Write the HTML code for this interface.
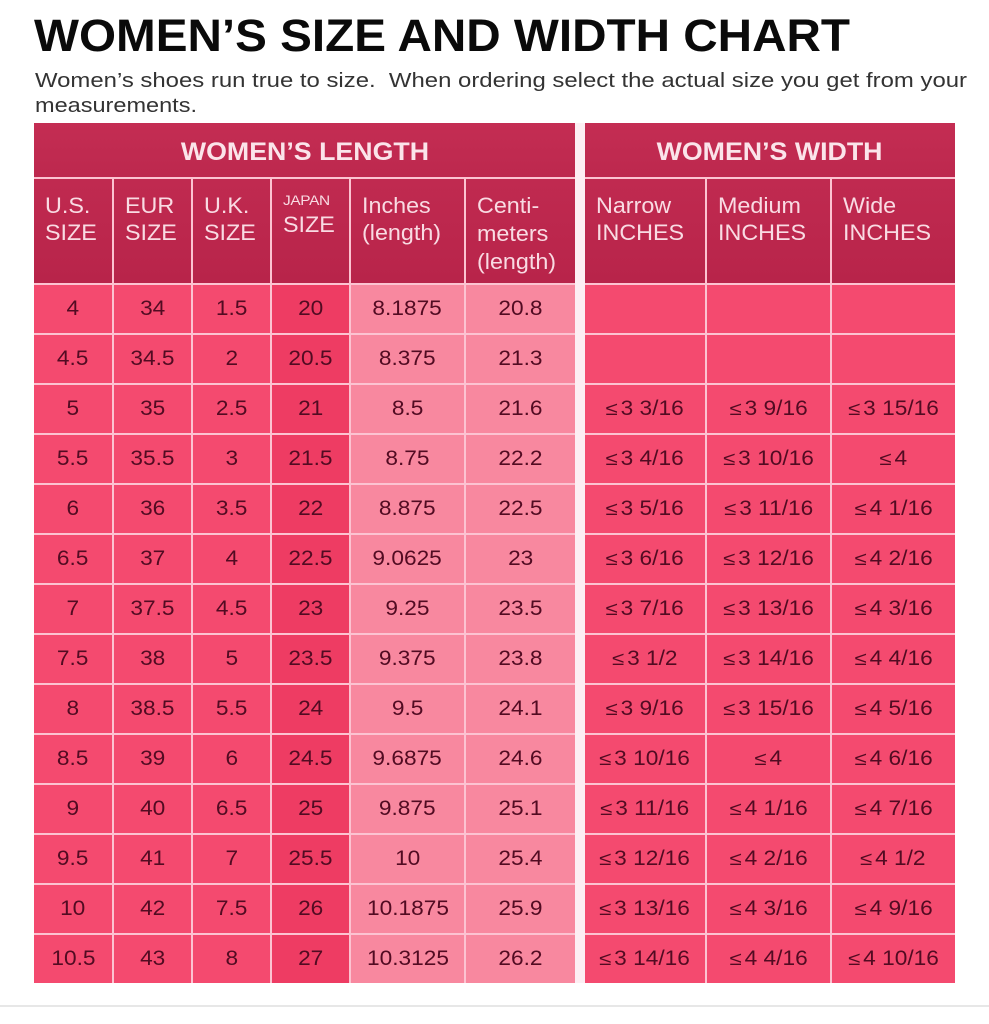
<!DOCTYPE html>
<html>
<head>
<meta charset="utf-8">
<style>
html,body{margin:0;padding:0;background:#fff;}
body{width:989px;height:1024px;position:relative;overflow:hidden;font-family:"Liberation Sans",Arial,sans-serif;}
.svgtop{position:absolute;left:0;top:0;}
.tbl{position:absolute;top:123px;height:860px;display:grid;column-gap:2px;row-gap:2px;background:#fcc3d1;
  grid-template-rows:54px 104px repeat(14,48px);}
#L{left:34px;width:541px;grid-template-columns:78px 77px 77px 77px 113px 109px;}
#R{left:585px;width:370px;grid-template-columns:120px 123px 123px;}
.h{background:linear-gradient(#c42d53,#bd284e);color:#fbe4ea;font-weight:bold;font-size:25px;display:flex;align-items:center;justify-content:center;padding-top:5px;box-sizing:border-box;}
.h span{display:inline-block;transform:scaleX(1.07);}
#L .h{grid-column:1 / span 6;}
#R .h{grid-column:1 / span 3;}
.s{background:linear-gradient(#c02a50,#b8244a);color:#f9dbe3;font-size:22px;line-height:27px;padding:13px 0 0 11px;box-sizing:border-box;white-space:nowrap;}
.s span{display:inline-block;transform:scaleX(1.06);transform-origin:left top;}
.s .jp{font-size:14px;line-height:16px;display:block;margin-top:0px;transform:scaleX(1.1);transform-origin:left top;letter-spacing:-0.3px;}
.s .jp2{display:block;margin-top:3px;line-height:27px;}
.d{background:#f44a6f;color:#520b22;font-size:21px;display:flex;align-items:center;justify-content:center;white-space:nowrap;}
.d span{display:inline-block;transform:scaleX(1.08);}
.j{background:#ee3c63;}
.l{background:#f8889f;}
.le{margin-right:3px;font-size:19px;}
.gap{position:absolute;left:575px;top:123px;width:10px;height:860px;background:#fdeef3;}
.sep{position:absolute;left:0;top:1005px;width:989px;height:2px;background:#e7e7e7;}
</style>
</head>
<body>
<svg class="svgtop" width="989" height="120" xmlns="http://www.w3.org/2000/svg">
  <text x="34" y="51" font-family="Liberation Sans, Arial, sans-serif" font-weight="bold" font-size="45" fill="#0a0a0a" textLength="816" lengthAdjust="spacingAndGlyphs">WOMEN’S SIZE AND WIDTH CHART</text>
  <text x="35" y="87" font-family="Liberation Sans, Arial, sans-serif" font-size="20" fill="#333" textLength="932" lengthAdjust="spacingAndGlyphs" xml:space="preserve">Women’s shoes run true to size.  When ordering select the actual size you get from your</text>
  <text x="35" y="112" font-family="Liberation Sans, Arial, sans-serif" font-size="20" fill="#333" textLength="162" lengthAdjust="spacingAndGlyphs">measurements.</text>
</svg>

<div class="gap"></div>

<div class="tbl" id="L">
  <div class="h"><span>WOMEN’S LENGTH</span></div>
  <div class="s"><span>U.S.<br>SIZE</span></div>
  <div class="s"><span>EUR<br>SIZE</span></div>
  <div class="s"><span>U.K.<br>SIZE</span></div>
  <div class="s"><span class="jp">JAPAN</span><span class="jp2">SIZE</span></div>
  <div class="s"><span>Inches<br>(length)</span></div>
  <div class="s" style="line-height:28px"><span>Centi-<br>meters<br>(length)</span></div>

  <div class="d"><span>4</span></div><div class="d"><span>34</span></div><div class="d"><span>1.5</span></div><div class="d j"><span>20</span></div><div class="d l"><span>8.1875</span></div><div class="d l"><span>20.8</span></div>
  <div class="d"><span>4.5</span></div><div class="d"><span>34.5</span></div><div class="d"><span>2</span></div><div class="d j"><span>20.5</span></div><div class="d l"><span>8.375</span></div><div class="d l"><span>21.3</span></div>
  <div class="d"><span>5</span></div><div class="d"><span>35</span></div><div class="d"><span>2.5</span></div><div class="d j"><span>21</span></div><div class="d l"><span>8.5</span></div><div class="d l"><span>21.6</span></div>
  <div class="d"><span>5.5</span></div><div class="d"><span>35.5</span></div><div class="d"><span>3</span></div><div class="d j"><span>21.5</span></div><div class="d l"><span>8.75</span></div><div class="d l"><span>22.2</span></div>
  <div class="d"><span>6</span></div><div class="d"><span>36</span></div><div class="d"><span>3.5</span></div><div class="d j"><span>22</span></div><div class="d l"><span>8.875</span></div><div class="d l"><span>22.5</span></div>
  <div class="d"><span>6.5</span></div><div class="d"><span>37</span></div><div class="d"><span>4</span></div><div class="d j"><span>22.5</span></div><div class="d l"><span>9.0625</span></div><div class="d l"><span>23</span></div>
  <div class="d"><span>7</span></div><div class="d"><span>37.5</span></div><div class="d"><span>4.5</span></div><div class="d j"><span>23</span></div><div class="d l"><span>9.25</span></div><div class="d l"><span>23.5</span></div>
  <div class="d"><span>7.5</span></div><div class="d"><span>38</span></div><div class="d"><span>5</span></div><div class="d j"><span>23.5</span></div><div class="d l"><span>9.375</span></div><div class="d l"><span>23.8</span></div>
  <div class="d"><span>8</span></div><div class="d"><span>38.5</span></div><div class="d"><span>5.5</span></div><div class="d j"><span>24</span></div><div class="d l"><span>9.5</span></div><div class="d l"><span>24.1</span></div>
  <div class="d"><span>8.5</span></div><div class="d"><span>39</span></div><div class="d"><span>6</span></div><div class="d j"><span>24.5</span></div><div class="d l"><span>9.6875</span></div><div class="d l"><span>24.6</span></div>
  <div class="d"><span>9</span></div><div class="d"><span>40</span></div><div class="d"><span>6.5</span></div><div class="d j"><span>25</span></div><div class="d l"><span>9.875</span></div><div class="d l"><span>25.1</span></div>
  <div class="d"><span>9.5</span></div><div class="d"><span>41</span></div><div class="d"><span>7</span></div><div class="d j"><span>25.5</span></div><div class="d l"><span>10</span></div><div class="d l"><span>25.4</span></div>
  <div class="d"><span>10</span></div><div class="d"><span>42</span></div><div class="d"><span>7.5</span></div><div class="d j"><span>26</span></div><div class="d l"><span>10.1875</span></div><div class="d l"><span>25.9</span></div>
  <div class="d"><span>10.5</span></div><div class="d"><span>43</span></div><div class="d"><span>8</span></div><div class="d j"><span>27</span></div><div class="d l"><span>10.3125</span></div><div class="d l"><span>26.2</span></div>
</div>

<div class="tbl" id="R">
  <div class="h"><span>WOMEN’S WIDTH</span></div>
  <div class="s"><span>Narrow<br>INCHES</span></div>
  <div class="s"><span>Medium<br>INCHES</span></div>
  <div class="s"><span>Wide<br>INCHES</span></div>

  <div class="d"></div><div class="d"></div><div class="d"></div>
  <div class="d"></div><div class="d"></div><div class="d"></div>
  <div class="d"><span><span class="le">≤</span>3 3/16</span></div><div class="d"><span><span class="le">≤</span>3 9/16</span></div><div class="d"><span><span class="le">≤</span>3 15/16</span></div>
  <div class="d"><span><span class="le">≤</span>3 4/16</span></div><div class="d"><span><span class="le">≤</span>3 10/16</span></div><div class="d"><span><span class="le">≤</span>4</span></div>
  <div class="d"><span><span class="le">≤</span>3 5/16</span></div><div class="d"><span><span class="le">≤</span>3 11/16</span></div><div class="d"><span><span class="le">≤</span>4 1/16</span></div>
  <div class="d"><span><span class="le">≤</span>3 6/16</span></div><div class="d"><span><span class="le">≤</span>3 12/16</span></div><div class="d"><span><span class="le">≤</span>4 2/16</span></div>
  <div class="d"><span><span class="le">≤</span>3 7/16</span></div><div class="d"><span><span class="le">≤</span>3 13/16</span></div><div class="d"><span><span class="le">≤</span>4 3/16</span></div>
  <div class="d"><span><span class="le">≤</span>3 1/2</span></div><div class="d"><span><span class="le">≤</span>3 14/16</span></div><div class="d"><span><span class="le">≤</span>4 4/16</span></div>
  <div class="d"><span><span class="le">≤</span>3 9/16</span></div><div class="d"><span><span class="le">≤</span>3 15/16</span></div><div class="d"><span><span class="le">≤</span>4 5/16</span></div>
  <div class="d"><span><span class="le">≤</span>3 10/16</span></div><div class="d"><span><span class="le">≤</span>4</span></div><div class="d"><span><span class="le">≤</span>4 6/16</span></div>
  <div class="d"><span><span class="le">≤</span>3 11/16</span></div><div class="d"><span><span class="le">≤</span>4 1/16</span></div><div class="d"><span><span class="le">≤</span>4 7/16</span></div>
  <div class="d"><span><span class="le">≤</span>3 12/16</span></div><div class="d"><span><span class="le">≤</span>4 2/16</span></div><div class="d"><span><span class="le">≤</span>4 1/2</span></div>
  <div class="d"><span><span class="le">≤</span>3 13/16</span></div><div class="d"><span><span class="le">≤</span>4 3/16</span></div><div class="d"><span><span class="le">≤</span>4 9/16</span></div>
  <div class="d"><span><span class="le">≤</span>3 14/16</span></div><div class="d"><span><span class="le">≤</span>4 4/16</span></div><div class="d"><span><span class="le">≤</span>4 10/16</span></div>
</div>

<div class="sep"></div>
</body>
</html>
